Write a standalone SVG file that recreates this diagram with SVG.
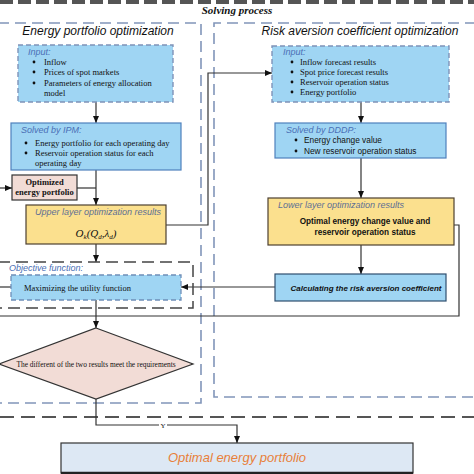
<svg xmlns="http://www.w3.org/2000/svg" width="474" height="474" viewBox="0 0 474 474">
<defs>
<marker id="ah" markerWidth="8" markerHeight="8" refX="7" refY="4" orient="auto" markerUnits="userSpaceOnUse">
<path d="M0,1 L7,4 L0,7 Z" fill="#111"/>
</marker>
<style>
.dashb{fill:none;stroke:#8195b9;stroke-width:1.6;stroke-dasharray:11 6}
.ln{fill:none;stroke:#333;stroke-width:1.2}
.serif{font-family:"Liberation Serif","Times New Roman",serif;fill:#111}
.sans{font-family:"Liberation Sans",Arial,sans-serif;fill:#111}
.lab{font-family:"Liberation Sans",Arial,sans-serif;font-style:italic;font-size:9px;fill:#4a6fb5}
.lab2{font-family:"Liberation Sans",Arial,sans-serif;font-style:italic;font-size:9px;fill:#5d6f94}
.title{font-family:"Liberation Sans",Arial,sans-serif;font-style:italic;font-size:12px;fill:#111}
.blue{fill:#9fd5f3}
.yel{fill:#fbe08e;stroke:#4d4030;stroke-width:1.2}
.bul{fill:#111}
</style>
</defs>
<rect width="474" height="474" fill="#fff"/>

<!-- frames -->
<g id="frames">
<line x1="0" y1="2" x2="474" y2="2" stroke="#555" stroke-width="4" stroke-dasharray="13 5"/>
<text x="237" y="14" text-anchor="middle" class="serif" font-size="11" font-weight="bold" font-style="italic">Solving process</text>
<path d="M-2,23 H201 V403 H-2" class="dashb"/>
<path d="M476,23 H214 V397 H476" class="dashb"/>
<text x="98" y="35" text-anchor="middle" class="title">Energy portfolio optimization</text>
<text x="360" y="35" text-anchor="middle" class="title">Risk aversion coefficient optimization</text>
<line x1="0" y1="417" x2="474" y2="417" stroke="#555" stroke-width="2" stroke-dasharray="14 7"/>
</g>

<!-- connectors -->
<g id="connectors">
<line x1="96" y1="102" x2="96" y2="123" class="ln" marker-end="url(#ah)"/>
<line x1="96" y1="170" x2="96" y2="205" class="ln" marker-end="url(#ah)"/>
<line x1="77" y1="188" x2="96" y2="188" class="ln"/>
<line x1="0" y1="188" x2="12" y2="188" class="ln" marker-end="url(#ah)"/>
<path d="M166,225 H208 V73 H272" class="ln" marker-end="url(#ah)"/>
<line x1="361" y1="102" x2="361" y2="123" class="ln" marker-end="url(#ah)"/>
<line x1="361" y1="158" x2="361" y2="198" class="ln" marker-end="url(#ah)"/>
<line x1="361" y1="245" x2="361" y2="274" class="ln" marker-end="url(#ah)"/>
<line x1="275" y1="287" x2="181" y2="287" class="ln" marker-end="url(#ah)"/>
<line x1="0" y1="287" x2="11" y2="287" class="ln"/>
<path d="M454,225 H459 V316 H0" class="ln"/>
<line x1="96" y1="244" x2="96" y2="262" class="ln" marker-end="url(#ah)"/>
<line x1="96" y1="300" x2="96" y2="328" class="ln" marker-end="url(#ah)"/>
<path d="M96,399 V425 H237 V443" class="ln" marker-end="url(#ah)"/>
<rect x="159" y="421" width="8" height="8" fill="#fff"/>
<text x="163" y="428" text-anchor="middle" class="serif" font-size="7">Y</text>
</g>

<g id="input-left">
<rect x="18" y="45" width="155" height="57" class="blue" stroke="#7f93b8" stroke-width="1.4" stroke-dasharray="5 3"/>
<text x="28" y="55" class="lab">Input:</text>
<circle cx="34" cy="62" r="1.4" class="bul"/>
<circle cx="34" cy="72" r="1.4" class="bul"/>
<circle cx="34" cy="83" r="1.4" class="bul"/>
<g class="serif" font-size="8.5">
<text x="44" y="65">Inflow</text>
<text x="44" y="75">Prices of spot markets</text>
<text x="44" y="86">Parameters of energy allocation</text>
<text x="44" y="96">model</text>
</g>
</g>

<g id="ipm">
<rect x="11" y="123" width="170" height="47" class="blue" stroke="#4f81bd" stroke-width="1.2"/>
<text x="21" y="133" class="lab">Solved by IPM:</text>
<circle cx="26" cy="143" r="1.4" class="bul"/>
<circle cx="26" cy="153" r="1.4" class="bul"/>
<g class="serif" font-size="8.5">
<text x="35" y="146">Energy portfolio for each operating day</text>
<text x="35" y="156">Reservoir operation status for each</text>
<text x="35" y="166">operating day</text>
</g>
</g>

<g id="optimized">
<rect x="12" y="175" width="65" height="25" fill="#f2dcd6" stroke="#333" stroke-width="1.2"/>
<text x="44.5" y="185" text-anchor="middle" class="serif" font-size="8.5" font-weight="bold">Optimized</text>
<text x="44.5" y="195" text-anchor="middle" class="serif" font-size="8.5" font-weight="bold">energy portfolio</text>
</g>

<g id="upper">
<rect x="26" y="205" width="140" height="39" class="yel"/>
<text x="98" y="215" text-anchor="middle" class="lab2">Upper layer optimization results</text>
<text x="96" y="237" text-anchor="middle" class="serif" font-size="11" font-style="italic">O<tspan font-size="7" dy="2">k</tspan><tspan dy="-2">(Q</tspan><tspan font-size="7" dy="2">d</tspan><tspan dy="-2">,λ</tspan><tspan font-size="7" dy="2">d</tspan><tspan dy="-2">)</tspan></text>
</g>

<g id="input-right">
<rect x="272" y="46" width="177" height="56" class="blue" stroke="#7f93b8" stroke-width="1.4" stroke-dasharray="5 3"/>
<text x="283" y="55" class="lab">Input:</text>
<circle cx="292" cy="62" r="1.4" class="bul"/>
<circle cx="292" cy="72" r="1.4" class="bul"/>
<circle cx="292" cy="82" r="1.4" class="bul"/>
<circle cx="292" cy="92" r="1.4" class="bul"/>
<g class="serif" font-size="8.5">
<text x="300" y="65">Inflow forecast results</text>
<text x="300" y="75">Spot price forecast results</text>
<text x="300" y="85">Reservoir operation status</text>
<text x="300" y="95">Energy portfolio</text>
</g>
</g>

<g id="dddp">
<rect x="275" y="123" width="171" height="35" class="blue" stroke="#4f81bd" stroke-width="1.2"/>
<text x="286" y="133" class="lab">Solved by DDDP:</text>
<circle cx="296" cy="140" r="1.4" class="bul"/>
<circle cx="296" cy="151" r="1.4" class="bul"/>
<g class="sans" font-size="8.3">
<text x="304" y="143">Energy change value</text>
<text x="304" y="154">New reservoir operation status</text>
</g>
</g>

<g id="lower">
<rect x="268" y="198" width="186" height="47" class="yel"/>
<text x="278" y="208" class="lab2">Lower layer optimization results</text>
<text x="365" y="224" text-anchor="middle" class="sans" font-size="8.2" font-weight="bold">Optimal energy change value and</text>
<text x="365" y="235" text-anchor="middle" class="sans" font-size="8.2" font-weight="bold">reservoir operation status</text>
</g>

<g id="calc">
<rect x="275" y="274" width="171" height="27" fill="#9fd5f3" stroke="#2f4f6f" stroke-width="1.2"/>
<text x="366" y="291" text-anchor="middle" class="sans" font-size="8" font-weight="bold" font-style="italic" fill="#1a2a3a">Calculating the risk aversion coefficient</text>
</g>

<g id="objective">
<rect x="-2" y="262" width="195" height="46" fill="none" stroke="#444" stroke-width="1.5" stroke-dasharray="12 6"/>
<text x="9" y="271" class="lab">Objective function:</text>
<rect x="11" y="275" width="170" height="25" class="blue" stroke="#6f8fb8" stroke-width="1.3" stroke-dasharray="5 3"/>
<text x="24" y="291" class="serif" font-size="8.5">Maximizing the utility function</text>
</g>

<g id="decision">
<path d="M96,328 L193,364 L96,399 L-1,364 Z" fill="#f2dcd6" stroke="#333" stroke-width="1.2"/>
<text x="96" y="366.5" text-anchor="middle" class="serif" font-size="7.4">The different of the two results meet the requirements</text>
</g>

<g id="final">
<rect x="61" y="443" width="352" height="30" fill="#dde8f4" stroke="#333" stroke-width="1.2"/>
<line x1="61" y1="473" x2="413" y2="473" stroke="#222" stroke-width="2.5"/>
<text x="237" y="462" text-anchor="middle" font-family="Liberation Sans, Arial, sans-serif" font-style="italic" font-size="13" fill="#e8803a">Optimal energy portfolio</text>
</g>
</svg>
